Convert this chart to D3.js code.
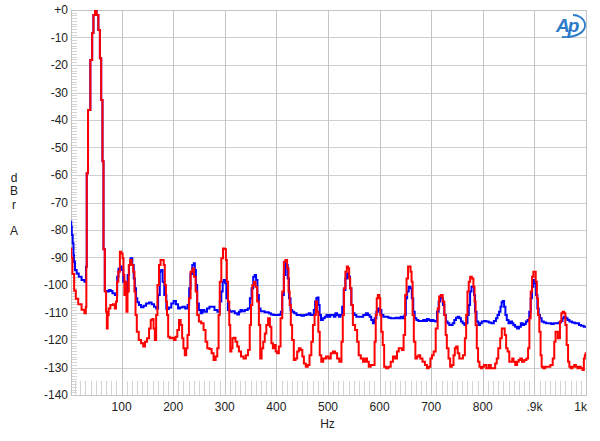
<!DOCTYPE html>
<html>
<head>
<meta charset="utf-8">
<script src="https://cdn.jsdelivr.net/npm/d3@7"></script>
<style>
  body { margin: 0; background: #fff; }
  text { font-family: "Liberation Sans", Arial, sans-serif; fill: #222; }
</style>
</head>
<body>
<div id="chart"></div>
<script>
// tick values and labels
var xTicks = [100, 200, 300, 400, 500, 600, 700, 800, 900, 1000];
var xLabels = ["100", "200", "300", "400", "500", "600", "700", "800", ".9k", "1k"];
var yTicks = [0, -10, -20, -30, -40, -50, -60, -70, -80, -90, -100, -110, -120, -130, -140];
var yLabels = ["+0", "-10", "-20", "-30", "-40", "-50", "-60", "-70", "-80", "-90", "-100", "-110", "-120", "-130", "-140"];

// red trace [Hz, dBr]
var redTrace = [
  [2,-86.7],[3,-90],[6.5,-96],[9.7,-102],[13,-105],[19,-107],[26,-109],[30,-110.3],[31.5,-108],
  [32,-93.4],[33,-59.4],[37,-36.4],[42,-18.2],[44,-8.4],[47,-1.8],[50,0],[53,-1.8],[57,-7.3],
  [59,-17.5],[62,-32.7],[64,-55],[66,-87],[69,-102.4],[71,-109.7],[72,-115.8],[74,-111],[76,-108.5],
  [80.6,-107.3],[85.8,-107],[88,-108.5],[90.3,-106],[92,-98.8],[95.5,-95.2],[98,-87.9],[101,-88.5],
  [103,-90.3],[104.5,-96.4],[106.5,-103.6],[109,-98.8],[110,-109.7],[113,-102.4],[115,-92.7],
  [118,-90.9],[121,-92.7],[124,-95.2],[126,-102.4],[128,-110.9],[131,-117],[135.5,-120],[140,-121.2],
  [144,-122.4],[147,-120.6],[151.6,-119.4],[155,-115.8],[158,-112.7],[161,-112.4],[163,-115.8],
  [166,-120],[168,-110.9],[171,-100],[174,-92.7],[177,-90.9],[180.6,-90.9],[182.6,-92.7],[185,-100],
  [187,-106],[189,-110.9],[191.6,-118.8],[195.5,-119.4],[200,-119.2],[203,-120],[206.5,-118.8],
  [209.7,-116.4],[213,-112.7],[216,-114.5],[218.7,-119.4],[221,-123],[224,-125.5],[226.5,-123],
  [229,-118.2],[232,-104.8],[235.5,-95.2],[239,-94],[242,-97],[245,-102.4],[248,-110.9],[251.6,-113.3],
  [256.8,-113.9],[261,-116.4],[264.5,-120.6],[267.7,-123],[273,-123.3],[276,-124.8],[280.6,-127.3],
  [284,-126],[287,-123],[289,-110.9],[291.6,-98.8],[295,-90.3],[298,-86.7],[301.3,-86.9],[303,-90.9],
  [305,-98.8],[307.7,-106],[309.7,-114.5],[311.6,-124.2],[314,-123],[316,-119.4],[319,-119.2],
  [322.6,-120.6],[325.8,-122.4],[329,-124.2],[334,-126],[338.7,-126.7],[343,-125.5],[347,-123.6],
  [349.7,-114.5],[352,-107.3],[354.8,-100],[358,-98.8],[361,-100.6],[364.5,-106],[367.7,-114.5],
  [369.7,-126.7],[373,-123],[376,-120.6],[379,-117.6],[382,-114.5],[385.8,-112.1],[389,-115.2],
  [391.6,-121.2],[394.8,-123],[397.4,-121.8],[400,-124.2],[403,-124.8],[406.5,-122.4],[409.7,-112.1],
  [413,-102.4],[416,-91.5],[419,-90.9],[422.6,-93.9],[424.5,-102.4],[427,-107.3],[429,-114.5],
  [432,-120],[435.5,-127.3],[438.7,-126.7],[442,-124.2],[445,-123],[449,-123.6],[451.6,-126],
  [455,-128.5],[459,-129.7],[462.6,-129.1],[465.8,-125.5],[469.7,-120.6],[472,-114.5],[476,-110.9],
  [477,-106],[480.6,-109.7],[482,-117],[486,-125.5],[488,-127.9],[493.5,-126.7],[498.7,-126],
  [503,-126.7],[507.7,-124.8],[511.6,-124.2],[516,-124.8],[519.4,-126.7],[524.5,-127.9],[527.7,-120.6],
  [529.7,-110.9],[532,-101.2],[535.5,-95.2],[537.4,-93.3],[540,-93.9],[542,-97.6],[544,-101.2],
  [546.5,-107.3],[550,-114.5],[555,-116.4],[558,-120.6],[561,-125.5],[566,-126.7],[569.7,-127.9],
  [574,-126.7],[577.4,-127.9],[580.6,-129.7],[585,-129.1],[589,-129.1],[591.6,-120.6],[593.5,-110.9],
  [595.5,-104.8],[598,-103.6],[600.6,-104.8],[602,-110.9],[604.5,-117],[607.7,-121.8],[610,-129.7],
  [614.8,-130.3],[619,-129.7],[624,-127.9],[627.7,-126],[632,-126.7],[635.5,-124.2],[638.7,-123],
  [642,-123],[645,-123.6],[648,-118.2],[651,-103.6],[653.5,-97.6],[656.8,-93.3],[659,-93.3],
  [661,-95.2],[663,-98.8],[665,-110.9],[667.7,-120.6],[671,-126.7],[674,-126],[677,-125.5],
  [680.6,-126.7],[685.8,-127.9],[690,-129.1],[693.5,-130.3],[696.8,-129.7],[700,-126.7],[703,-125.5],
  [706.5,-124.2],[711,-115.8],[714,-108.5],[716.8,-104.2],[720.6,-103.6],[723.9,-106],[727,-110.9],
  [729,-118.2],[731.6,-123],[735.5,-126.7],[738,-129.7],[742,-129.1],[744.5,-125.5],[747,-123],
  [749.7,-122.4],[753,-124.8],[756,-126.7],[759,-126.7],[764,-125.5],[766.5,-119.4],[769,-110.9],
  [771.6,-102.4],[774,-98.8],[777,-97],[780.6,-97.6],[783,-100.6],[785,-106],[787,-114.5],
  [789.7,-123],[792,-127.9],[795,-129.7],[798,-130.3],[800,-129.7],[804.5,-129.1],[809,-130.3],
  [814,-129.1],[817,-130.3],[822,-130.3],[826,-128.5],[828,-126.7],[832,-123],[835.5,-119.4],
  [838,-115.8],[841,-115.8],[844,-118.2],[846.5,-123],[849.7,-124.2],[853,-127.9],[856,-127.9],
  [858,-126.7],[861,-127.9],[865,-129.1],[868,-127.9],[871,-127.3],[874,-126.7],[878,-127.9],
  [882.6,-127.3],[886.5,-126.7],[889,-123],[891.6,-112.1],[894,-102.4],[897,-97],[899,-95.2],
  [901.6,-95.2],[903.5,-98.8],[906,-104.8],[908,-110.9],[911,-117],[913,-125.5],[915,-129.7],
  [919,-130.3],[923,-129.7],[927.7,-129.7],[934,-129.1],[937,-126.7],[940,-120.6],[942,-117],
  [944.5,-117],[946.5,-119.4],[948,-119.4],[951,-113.3],[953.5,-110.3],[956,-109.7],[959,-110.3],
  [961,-114.5],[964,-121.8],[966.5,-127.9],[969,-129.7],[972,-130.3],[975.5,-129.7],[978.7,-129.1],
  [982,-129.7],[985,-130.3],[988,-129.7],[991.6,-130.3],[994.8,-130.9],[996.8,-126.7],[998.7,-125.5],
  [1000,-124.8]
];

// blue trace [Hz, dBr] (its fundamental sits under the red one)
var blueTrace = [
  [2,-77],[3,-78.8],[4,-81.8],[6.5,-84.8],[7,-89],[8.4,-91.5],[11,-94.5],[15,-95.8],[19,-97],
  [26,-98.2],[30,-98.8],[32,-93.4],[33,-59.4],[37,-36.4],[42,-18.2],[44,-8.4],[47,-1.8],[50,0],
  [53,-1.8],[57,-7.3],[59,-17.5],[62,-32.7],[64,-55],[66,-87],[69,-102.2],[71,-102.2],[74,-102.4],[77,-101.8],
  [80.6,-102.2],[84,-103],[90,-103.6],[93,-97],[95,-94.1],[99,-93.3],[101.3,-94.5],[105,-98.8],
  [108,-103.6],[110.6,-102.4],[113,-96.4],[116,-92.7],[119,-90.3],[122.6,-92.7],[124.5,-97.6],
  [127,-101.2],[129,-104.8],[132,-106.3],[135.5,-107.3],[140,-108.1],[145,-107.5],[150,-106.7],
  [156,-106.4],[160.6,-107],[165,-107.9],[169,-108.5],[172.6,-103.6],[175.5,-95.2],[178,-94.5],
  [181,-98.8],[184.5,-103.6],[189,-108.7],[194,-108.2],[198.7,-106.7],[203,-105.8],[208,-107],
  [211,-108.5],[215.5,-108.2],[220.6,-107.9],[225.8,-108.5],[230,-107.3],[232,-101.2],[235,-96],
  [239,-92.7],[241,-92.1],[243,-94.5],[245,-100],[248,-106.7],[251.6,-109.1],[255,-110.3],
  [258,-109.1],[263,-109.7],[268,-108.5],[272.6,-107.9],[277.4,-107.9],[282.6,-109.1],[289,-109.7],
  [291.6,-106],[295,-102.4],[296.8,-98.8],[299.4,-98.2],[302,-99.4],[304.5,-104.8],[307.7,-109.1],
  [311,-109.7],[316,-109.5],[322.6,-110.3],[326,-110.7],[329,-109.7],[332,-109.1],[335.5,-109.5],
  [342,-109.1],[347,-108.5],[350.3,-104.8],[353.5,-101.2],[356.8,-97],[359.4,-96.4],[362,-98.2],
  [364.5,-103.6],[367.7,-108.5],[371,-109.5],[375.5,-109.5],[379,-109.9],[383.5,-109.9],
  [386.8,-110.3],[392,-110.7],[396.5,-110.9],[401,-110.9],[405,-110.9],[407.7,-110.7],[409.7,-109.7],
  [413,-103.6],[416,-96.4],[419,-92.1],[421,-92.7],[423,-97.6],[425.8,-104.8],[429,-109.1],
  [432,-109.7],[437,-110.3],[441.3,-110.9],[446,-110.9],[451,-111.2],[456,-110.9],[461,-110.7],
  [464.5,-110.3],[467.7,-110.9],[471,-110.9],[474,-109.1],[476,-106],[478.7,-104.8],[480.6,-104.5],
  [482.6,-107.3],[485,-110.9],[488,-112.7],[492,-112.1],[495.5,-111.5],[498.7,-110.9],[503,-111.5],
  [506,-110.9],[509.7,-110.9],[513,-111.5],[516,-110.3],[519.4,-110.9],[522.6,-111.5],[526,-110.9],
  [529,-107.9],[532,-101.8],[535.5,-97.6],[538.7,-95.8],[541.3,-97],[544,-101.2],[546.5,-107.3],
  [549.7,-110.3],[553,-110.9],[556.8,-111.5],[561,-111.5],[565.8,-111.5],[571,-110.9],[576,-110.3],
  [578.7,-110.9],[582.6,-111.5],[585,-112.7],[589,-113.9],[592,-112.1],[595.5,-109.7],[598.7,-108.5],
  [602,-109.1],[605,-110.9],[609.7,-111.5],[614.8,-111.5],[619,-111.9],[624,-112.1],[629,-112.1],
  [634,-111.9],[638.7,-112.1],[643,-111.5],[647,-112.1],[649.7,-110.9],[652,-104.8],[654.8,-102.4],
  [658,-100.6],[661,-101.2],[663.9,-104.8],[666.5,-109.7],[669.7,-112.1],[673,-112.7],[677,-113.1],
  [682,-113.1],[687,-112.7],[690,-113.1],[693.5,-112.4],[696.8,-112.7],[700,-113.1],[703,-112.7],
  [706.5,-113.1],[709.7,-113.3],[713,-109.7],[716,-106],[719,-104.2],[721.6,-104.8],[724,-107.3],
  [727,-110.9],[730,-113.3],[733.5,-113.9],[736.8,-114.5],[740,-114.5],[743,-113.9],[746.5,-112.7],
  [749.7,-111.9],[753,-111.5],[756,-112.1],[759.4,-113.3],[762.6,-113.9],[766,-114.5],[769,-113.9],
  [771.6,-110.9],[774,-107.3],[776.8,-102.4],[779.4,-100.6],[782,-100.6],[784,-103.6],[786,-109.7],
  [789.7,-113.3],[793,-114.5],[796,-113.9],[800,-113.3],[804.5,-113.1],[809,-113.3],[814,-113.6],
  [819,-113.9],[824,-113.1],[827,-112.1],[830,-110.9],[833,-109.7],[835.5,-107.9],[837.4,-106.3],
  [840,-105.8],[842.6,-107.9],[845,-110.9],[848,-112.7],[851.6,-113.9],[855.5,-113.3],[858,-113.9],
  [860.6,-114.5],[864.5,-115.2],[868.4,-115.8],[872,-115.2],[875.5,-113.9],[878.7,-114.5],
  [882,-114.2],[885,-113.3],[888.4,-112.7],[891.6,-109.7],[894,-104.8],[896.8,-100.6],[899.4,-98.2],
  [902,-99.4],[904.5,-103.6],[907,-108.5],[909.7,-110.9],[912,-112.1],[916,-113.3],[920.6,-113.6],
  [925,-113.9],[930,-113.9],[935,-114.2],[939.4,-113.9],[944.5,-113.9],[949.7,-113.6],[953,-113.1],
  [956,-112.1],[959,-111.5],[962.6,-112.1],[965.8,-112.7],[970,-113.3],[975.5,-113.6],[980.6,-113.9],
  [985,-113.9],[988,-114.5],[993,-114.8],[998,-115.2],[1000,-115.2]
];

// set the dimensions and margins of the graph
var margin = {top: 10, right: 14, bottom: 46, left: 71},
    width = 600 - margin.left - margin.right,
    height = 441 - margin.top - margin.bottom;

var x = d3.scaleLinear().domain([2, 1000]).range([0, width]);
var y = d3.scaleLinear().domain([-140, 0]).range([height, 0]);

var svg = d3.select("#chart").append("svg")
    .attr("width", 600)
    .attr("height", 441)
  .append("g")
    .attr("transform", "translate(" + margin.left + "," + margin.top + ")");

svg.append("clipPath").attr("id", "clip")
  .append("rect").attr("width", width).attr("height", height);

// minor ticks on the left edge, every 1 dB
svg.append("g").selectAll("line")
    .data(d3.range(-139, 0).filter(function(d) { return d % 10 !== 0; }))
  .enter().append("line")
    .attr("x1", 0).attr("x2", 6)
    .attr("y1", function(d) { return Math.round(y(d)) + 0.5; })
    .attr("y2", function(d) { return Math.round(y(d)) + 0.5; })
    .style("stroke", "#d4d4d4");

// minor ticks on the bottom edge, every 10 Hz
svg.append("g").selectAll("line")
    .data(d3.range(10, 1000, 10).filter(function(d) { return d % 100 !== 0; }))
  .enter().append("line")
    .attr("x1", function(d) { return Math.round(x(d)) + 0.5; })
    .attr("x2", function(d) { return Math.round(x(d)) + 0.5; })
    .attr("y1", height - 14).attr("y2", height)
    .style("stroke", "#d4d4d4");

// grid lines
svg.append("g").selectAll("line")
    .data(yTicks)
  .enter().append("line")
    .attr("x1", 0).attr("x2", width)
    .attr("y1", function(d) { return Math.round(y(d)) + 0.5; })
    .attr("y2", function(d) { return Math.round(y(d)) + 0.5; })
    .style("stroke", "#cfcfcf");

svg.append("g").selectAll("line")
    .data(xTicks)
  .enter().append("line")
    .attr("x1", function(d) { return Math.round(x(d)) + 0.5; })
    .attr("x2", function(d) { return Math.round(x(d)) + 0.5; })
    .attr("y1", 0).attr("y2", height)
    .style("stroke", "#c4c4c4");

// frame
svg.append("rect")
    .attr("x", 0.5).attr("y", 0.5)
    .attr("width", width).attr("height", height)
    .style("fill", "none")
    .style("stroke", "#c4c4c4");

// traces
var line = d3.line()
    .curve(d3.curveStep)
    .x(function(d) { return x(d[0]); })
    .y(function(d) { return y(d[1]); });

svg.append("path")
    .datum(blueTrace)
    .attr("clip-path", "url(#clip)")
    .attr("fill", "none")
    .attr("stroke", "#0000ff")
    .attr("stroke-width", 2)
    .attr("d", line);

svg.append("path")
    .datum(redTrace)
    .attr("clip-path", "url(#clip)")
    .attr("fill", "none")
    .attr("stroke", "#ff0000")
    .attr("stroke-width", 2)
    .attr("d", line);

// y labels
svg.append("g").selectAll("text")
    .data(yTicks)
  .enter().append("text")
    .attr("x", -3)
    .attr("y", function(d) { return y(d); })
    .attr("dy", "0.35em")
    .attr("text-anchor", "end")
    .style("font-size", "12px")
    .text(function(d, i) { return yLabels[i]; });

// x labels
svg.append("g").selectAll("text")
    .data(xTicks)
  .enter().append("text")
    .attr("x", function(d) { return d === 1000 ? x(d) + 1 : x(d); })
    .attr("y", height + 16)
    .attr("text-anchor", function(d) { return d === 1000 ? "end" : "middle"; })
    .style("font-size", "12px")
    .text(function(d, i) { return xLabels[i]; });

// axis titles
svg.append("text")
    .attr("x", width / 2 - 1)
    .attr("y", height + 33)
    .attr("text-anchor", "middle")
    .style("font-size", "12px")
    .text("Hz");

["d", "B", "r", "", "A"].forEach(function(c, i) {
  svg.append("text")
    .attr("x", 14 - margin.left)
    .attr("y", 172 + i * 13.3)
    .attr("text-anchor", "middle")
    .style("font-size", "12px")
    .text(c);
});

// Ap logo
var logo = svg.append("g").attr("transform", "translate(" + (width - 30) + ",4)");
logo.append("text")
    .attr("x", 0).attr("y", 18)
    .style("font-size", "19px")
    .style("font-style", "italic")
    .style("font-weight", "bold")
    .style("fill", "#2b7bc9")
    .style("letter-spacing", "-2px")
    .text("Ap");
logo.append("path")
    .attr("d", "M6,23 C20,24 30,18 29,10 C28,4 22,1 17,1")
    .style("fill", "none")
    .style("stroke", "#2b7bc9")
    .style("stroke-width", 1.8);
</script>
</body>
</html>
